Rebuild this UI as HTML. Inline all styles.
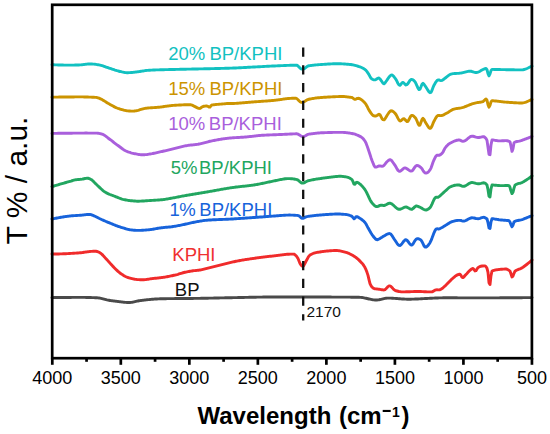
<!DOCTYPE html>
<html><head><meta charset="utf-8"><style>
html,body{margin:0;padding:0;background:#fff;}
body{width:550px;height:434px;overflow:hidden;}
svg{display:block;font-family:"Liberation Sans",sans-serif;}
</style></head><body>
<svg width="550" height="434" viewBox="0 0 550 434">
<path d="M52.00,297.60 L53.00,297.58 L54.00,297.57 L55.00,297.55 L56.00,297.54 L57.00,297.53 L58.00,297.52 L59.00,297.51 L60.00,297.50 L61.00,297.49 L62.00,297.48 L63.00,297.47 L64.00,297.46 L65.00,297.46 L66.00,297.45 L67.00,297.45 L68.00,297.44 L69.00,297.44 L70.00,297.43 L71.00,297.43 L72.00,297.42 L73.00,297.42 L74.00,297.42 L75.00,297.41 L76.00,297.41 L77.00,297.41 L78.00,297.41 L79.00,297.40 L80.00,297.40 L81.00,297.40 L82.00,297.40 L83.00,297.41 L84.00,297.41 L85.00,297.42 L86.00,297.44 L87.00,297.45 L88.00,297.47 L89.00,297.50 L90.00,297.52 L91.00,297.55 L92.00,297.58 L93.00,297.61 L94.00,297.65 L95.00,297.69 L96.00,297.73 L97.00,297.78 L98.00,297.83 L99.00,297.94 L100.00,298.10 L101.00,298.31 L102.00,298.54 L103.00,298.80 L104.00,299.07 L105.00,299.35 L106.00,299.61 L107.00,299.87 L108.00,300.09 L109.00,300.28 L110.00,300.45 L111.00,300.60 L112.00,300.75 L113.00,300.90 L114.00,301.04 L115.00,301.18 L116.00,301.31 L117.00,301.43 L118.00,301.55 L119.00,301.67 L120.00,301.78 L121.00,301.90 L122.00,302.02 L123.00,302.14 L124.00,302.25 L125.00,302.34 L126.00,302.42 L127.00,302.48 L128.00,302.51 L129.00,302.51 L130.00,302.47 L131.00,302.38 L132.00,302.24 L133.00,302.06 L134.00,301.85 L135.00,301.63 L136.00,301.40 L137.00,301.17 L138.00,300.97 L139.00,300.79 L140.00,300.65 L141.00,300.51 L142.00,300.38 L143.00,300.25 L144.00,300.12 L145.00,300.00 L146.00,299.88 L147.00,299.77 L148.00,299.67 L149.00,299.57 L150.00,299.48 L151.00,299.40 L152.00,299.31 L153.00,299.23 L154.00,299.14 L155.00,299.07 L156.00,298.99 L157.00,298.93 L158.00,298.87 L159.00,298.83 L160.00,298.80 L161.00,298.78 L162.00,298.76 L163.00,298.74 L164.00,298.72 L165.00,298.70 L166.00,298.68 L167.00,298.66 L168.00,298.65 L169.00,298.64 L170.00,298.62 L171.00,298.61 L172.00,298.60 L173.00,298.59 L174.00,298.58 L175.00,298.57 L176.00,298.56 L177.00,298.56 L178.00,298.55 L179.00,298.54 L180.00,298.54 L181.00,298.53 L182.00,298.52 L183.00,298.52 L184.00,298.51 L185.00,298.50 L186.00,298.50 L187.00,298.49 L188.00,298.48 L189.00,298.47 L190.00,298.46 L191.00,298.45 L192.00,298.44 L193.00,298.43 L194.00,298.42 L195.00,298.41 L196.00,298.39 L197.00,298.38 L198.00,298.36 L199.00,298.35 L200.00,298.33 L201.00,298.31 L202.00,298.29 L203.00,298.28 L204.00,298.26 L205.00,298.24 L206.00,298.22 L207.00,298.20 L208.00,298.18 L209.00,298.16 L210.00,298.14 L211.00,298.12 L212.00,298.10 L213.00,298.08 L214.00,298.05 L215.00,298.03 L216.00,298.01 L217.00,297.99 L218.00,297.97 L219.00,297.95 L220.00,297.92 L221.00,297.90 L222.00,297.88 L223.00,297.86 L224.00,297.84 L225.00,297.82 L226.00,297.80 L227.00,297.78 L228.00,297.76 L229.00,297.74 L230.00,297.72 L231.00,297.70 L232.00,297.68 L233.00,297.66 L234.00,297.64 L235.00,297.62 L236.00,297.60 L237.00,297.58 L238.00,297.56 L239.00,297.54 L240.00,297.51 L241.00,297.49 L242.00,297.47 L243.00,297.45 L244.00,297.43 L245.00,297.41 L246.00,297.38 L247.00,297.36 L248.00,297.34 L249.00,297.32 L250.00,297.30 L251.00,297.28 L252.00,297.26 L253.00,297.24 L254.00,297.22 L255.00,297.20 L256.00,297.18 L257.00,297.16 L258.00,297.15 L259.00,297.13 L260.00,297.12 L261.00,297.10 L262.00,297.09 L263.00,297.07 L264.00,297.06 L265.00,297.05 L266.00,297.04 L267.00,297.02 L268.00,297.02 L269.00,297.01 L270.00,297.00 L271.00,296.99 L272.00,296.99 L273.00,296.98 L274.00,296.98 L275.00,296.97 L276.00,296.97 L277.00,296.96 L278.00,296.96 L279.00,296.96 L280.00,296.95 L281.00,296.95 L282.00,296.95 L283.00,296.95 L284.00,296.95 L285.00,296.94 L286.00,296.94 L287.00,296.94 L288.00,296.94 L289.00,296.94 L290.00,296.94 L291.00,296.94 L292.00,296.94 L293.00,296.94 L294.00,296.94 L295.00,296.95 L296.00,296.95 L297.00,296.95 L298.00,296.95 L299.00,296.95 L300.00,296.96 L301.00,296.96 L302.00,296.96 L303.00,296.96 L304.00,296.97 L305.00,296.97 L306.00,296.97 L307.00,296.98 L308.00,296.98 L309.00,296.98 L310.00,296.99 L311.00,296.99 L312.00,297.00 L313.00,297.00 L314.00,297.00 L315.00,297.01 L316.00,297.01 L317.00,297.02 L318.00,297.02 L319.00,297.02 L320.00,297.03 L321.00,297.03 L322.00,297.04 L323.00,297.04 L324.00,297.05 L325.00,297.05 L326.00,297.05 L327.00,297.06 L328.00,297.06 L329.00,297.06 L330.00,297.07 L331.00,297.07 L332.00,297.08 L333.00,297.08 L334.00,297.08 L335.00,297.09 L336.00,297.09 L337.00,297.09 L338.00,297.09 L339.00,297.10 L340.00,297.10 L341.00,297.10 L342.00,297.11 L343.00,297.11 L344.00,297.12 L345.00,297.12 L346.00,297.13 L347.00,297.14 L348.00,297.15 L349.00,297.16 L350.00,297.17 L351.00,297.18 L352.00,297.19 L353.00,297.21 L354.00,297.22 L355.00,297.24 L356.00,297.25 L357.00,297.27 L358.00,297.28 L359.00,297.30 L360.00,297.33 L361.00,297.42 L362.00,297.53 L363.00,297.69 L364.00,297.87 L365.00,298.07 L366.00,298.28 L367.00,298.51 L368.00,298.74 L369.00,298.96 L370.00,299.18 L371.00,299.38 L372.00,299.57 L373.00,299.73 L374.00,299.86 L375.00,299.95 L376.00,299.99 L377.00,299.99 L378.00,299.90 L379.00,299.74 L380.00,299.54 L381.00,299.31 L382.00,299.06 L383.00,298.81 L384.00,298.58 L385.00,298.37 L386.00,298.22 L387.00,298.12 L388.00,298.10 L389.00,298.11 L390.00,298.14 L391.00,298.17 L392.00,298.22 L393.00,298.28 L394.00,298.34 L395.00,298.41 L396.00,298.48 L397.00,298.55 L398.00,298.63 L399.00,298.71 L400.00,298.79 L401.00,298.86 L402.00,298.93 L403.00,299.00 L404.00,299.06 L405.00,299.11 L406.00,299.16 L407.00,299.19 L408.00,299.21 L409.00,299.22 L410.00,299.21 L411.00,299.19 L412.00,299.16 L413.00,299.13 L414.00,299.10 L415.00,299.06 L416.00,299.02 L417.00,298.97 L418.00,298.93 L419.00,298.88 L420.00,298.83 L421.00,298.77 L422.00,298.72 L423.00,298.67 L424.00,298.61 L425.00,298.56 L426.00,298.50 L427.00,298.45 L428.00,298.39 L429.00,298.34 L430.00,298.29 L431.00,298.23 L432.00,298.18 L433.00,298.14 L434.00,298.09 L435.00,298.05 L436.00,298.00 L437.00,297.97 L438.00,297.93 L439.00,297.90 L440.00,297.87 L441.00,297.85 L442.00,297.83 L443.00,297.81 L444.00,297.80 L445.00,297.80 L446.00,297.80 L447.00,297.80 L448.00,297.80 L449.00,297.80 L450.00,297.80 L451.00,297.80 L452.00,297.80 L453.00,297.81 L454.00,297.81 L455.00,297.81 L456.00,297.82 L457.00,297.82 L458.00,297.83 L459.00,297.83 L460.00,297.84 L461.00,297.84 L462.00,297.85 L463.00,297.85 L464.00,297.86 L465.00,297.87 L466.00,297.87 L467.00,297.88 L468.00,297.88 L469.00,297.89 L470.00,297.89 L471.00,297.89 L472.00,297.90 L473.00,297.90 L474.00,297.90 L475.00,297.91 L476.00,297.91 L477.00,297.91 L478.00,297.91 L479.00,297.91 L480.00,297.91 L481.00,297.91 L482.00,297.90 L483.00,297.90 L484.00,297.90 L485.00,297.89 L486.00,297.89 L487.00,297.88 L488.00,297.88 L489.00,297.88 L490.00,297.87 L491.00,297.87 L492.00,297.86 L493.00,297.86 L494.00,297.85 L495.00,297.85 L496.00,297.84 L497.00,297.84 L498.00,297.83 L499.00,297.83 L500.00,297.82 L501.00,297.82 L502.00,297.81 L503.00,297.80 L504.00,297.80 L505.00,297.79 L506.00,297.79 L507.00,297.78 L508.00,297.77 L509.00,297.77 L510.00,297.76 L511.00,297.76 L512.00,297.75 L513.00,297.74 L514.00,297.74 L515.00,297.73 L516.00,297.72 L517.00,297.72 L518.00,297.71 L519.00,297.70 L520.00,297.69 L521.00,297.69 L522.00,297.68 L523.00,297.67 L524.00,297.66 L525.00,297.66 L526.00,297.65 L527.00,297.64 L528.00,297.63 L529.00,297.63 L530.00,297.62 L531.00,297.61 L532.00,297.60" fill="none" stroke="#4a4a4a" stroke-width="2.9" stroke-linejoin="round" stroke-linecap="round"/>
<path d="M52.00,254.00 L53.00,254.00 L54.00,254.00 L55.00,253.99 L56.00,253.98 L57.00,253.97 L58.00,253.95 L59.00,253.93 L60.00,253.90 L61.00,253.87 L62.00,253.84 L63.00,253.80 L64.00,253.76 L65.00,253.72 L66.00,253.68 L67.00,253.63 L68.00,253.58 L69.00,253.53 L70.00,253.47 L71.00,253.41 L72.00,253.35 L73.00,253.29 L74.00,253.23 L75.00,253.16 L76.00,253.09 L77.00,253.02 L78.00,252.95 L79.00,252.88 L80.00,252.80 L81.00,252.71 L82.00,252.59 L83.00,252.45 L84.00,252.30 L85.00,252.14 L86.00,251.98 L87.00,251.83 L88.00,251.69 L89.00,251.57 L90.00,251.47 L91.00,251.40 L92.00,251.34 L93.00,251.31 L94.00,251.29 L95.00,251.29 L96.00,251.30 L97.00,251.44 L98.00,251.78 L99.00,252.27 L100.00,252.85 L101.00,253.51 L102.00,254.37 L103.00,255.37 L104.00,256.46 L105.00,257.59 L106.00,258.69 L107.00,259.75 L108.00,260.86 L109.00,261.98 L110.00,263.11 L111.00,264.23 L112.00,265.33 L113.00,266.39 L114.00,267.40 L115.00,268.41 L116.00,269.42 L117.00,270.39 L118.00,271.32 L119.00,272.20 L120.00,272.99 L121.00,273.71 L122.00,274.39 L123.00,275.04 L124.00,275.66 L125.00,276.24 L126.00,276.74 L127.00,277.17 L128.00,277.50 L129.00,277.78 L130.00,278.06 L131.00,278.33 L132.00,278.58 L133.00,278.82 L134.00,279.04 L135.00,279.23 L136.00,279.39 L137.00,279.51 L138.00,279.59 L139.00,279.64 L140.00,279.68 L141.00,279.72 L142.00,279.73 L143.00,279.73 L144.00,279.70 L145.00,279.64 L146.00,279.55 L147.00,279.42 L148.00,279.26 L149.00,279.09 L150.00,278.92 L151.00,278.75 L152.00,278.59 L153.00,278.46 L154.00,278.36 L155.00,278.26 L156.00,278.18 L157.00,278.10 L158.00,278.01 L159.00,277.92 L160.00,277.80 L161.00,277.67 L162.00,277.53 L163.00,277.38 L164.00,277.22 L165.00,277.06 L166.00,276.88 L167.00,276.70 L168.00,276.52 L169.00,276.32 L170.00,276.12 L171.00,275.92 L172.00,275.71 L173.00,275.49 L174.00,275.27 L175.00,275.05 L176.00,274.82 L177.00,274.57 L178.00,274.29 L179.00,273.98 L180.00,273.66 L181.00,273.34 L182.00,273.03 L183.00,272.75 L184.00,272.51 L185.00,272.28 L186.00,272.06 L187.00,271.85 L188.00,271.65 L189.00,271.46 L190.00,271.28 L191.00,271.11 L192.00,270.95 L193.00,270.80 L194.00,270.68 L195.00,270.59 L196.00,270.50 L197.00,270.41 L198.00,270.31 L199.00,270.19 L200.00,270.03 L201.00,269.85 L202.00,269.63 L203.00,269.40 L204.00,269.15 L205.00,268.88 L206.00,268.62 L207.00,268.35 L208.00,268.10 L209.00,267.85 L210.00,267.61 L211.00,267.37 L212.00,267.12 L213.00,266.88 L214.00,266.64 L215.00,266.39 L216.00,266.15 L217.00,265.91 L218.00,265.67 L219.00,265.42 L220.00,265.18 L221.00,264.93 L222.00,264.68 L223.00,264.43 L224.00,264.18 L225.00,263.92 L226.00,263.67 L227.00,263.41 L228.00,263.16 L229.00,262.91 L230.00,262.66 L231.00,262.42 L232.00,262.18 L233.00,261.95 L234.00,261.72 L235.00,261.50 L236.00,261.29 L237.00,261.09 L238.00,260.90 L239.00,260.71 L240.00,260.53 L241.00,260.36 L242.00,260.18 L243.00,260.01 L244.00,259.85 L245.00,259.68 L246.00,259.52 L247.00,259.36 L248.00,259.21 L249.00,259.06 L250.00,258.91 L251.00,258.76 L252.00,258.61 L253.00,258.47 L254.00,258.33 L255.00,258.19 L256.00,258.05 L257.00,257.92 L258.00,257.78 L259.00,257.65 L260.00,257.52 L261.00,257.39 L262.00,257.26 L263.00,257.13 L264.00,257.01 L265.00,256.89 L266.00,256.77 L267.00,256.65 L268.00,256.53 L269.00,256.42 L270.00,256.30 L271.00,256.19 L272.00,256.07 L273.00,255.95 L274.00,255.84 L275.00,255.72 L276.00,255.60 L277.00,255.48 L278.00,255.36 L279.00,255.23 L280.00,255.11 L281.00,254.98 L282.00,254.86 L283.00,254.74 L284.00,254.62 L285.00,254.50 L286.00,254.39 L287.00,254.31 L288.00,254.24 L289.00,254.18 L290.00,254.15 L291.00,254.12 L292.00,254.10 L293.00,254.10 L294.00,254.13 L295.00,254.67 L296.00,255.68 L297.00,256.96 L298.00,258.58 L299.00,261.08 L300.00,263.48 L301.00,265.04 L302.00,266.15 L303.00,266.33 L304.00,265.18 L305.00,263.25 L306.00,261.27 L307.00,259.46 L308.00,257.57 L309.00,255.99 L310.00,255.10 L311.00,254.50 L312.00,253.97 L313.00,253.52 L314.00,253.13 L315.00,252.82 L316.00,252.58 L317.00,252.40 L318.00,252.25 L319.00,252.10 L320.00,251.95 L321.00,251.81 L322.00,251.67 L323.00,251.53 L324.00,251.40 L325.00,251.27 L326.00,251.15 L327.00,251.05 L328.00,250.95 L329.00,250.87 L330.00,250.79 L331.00,250.71 L332.00,250.65 L333.00,250.59 L334.00,250.54 L335.00,250.51 L336.00,250.50 L337.00,250.53 L338.00,250.61 L339.00,250.75 L340.00,250.92 L341.00,251.12 L342.00,251.35 L343.00,251.60 L344.00,251.85 L345.00,252.12 L346.00,252.37 L347.00,252.66 L348.00,253.02 L349.00,253.45 L350.00,253.94 L351.00,254.46 L352.00,255.03 L353.00,255.61 L354.00,256.22 L355.00,256.82 L356.00,257.51 L357.00,258.30 L358.00,259.17 L359.00,260.11 L360.00,261.11 L361.00,262.14 L362.00,263.19 L363.00,264.40 L364.00,265.89 L365.00,267.60 L366.00,269.72 L367.00,272.36 L368.00,275.40 L369.00,279.67 L370.00,283.68 L371.00,285.69 L372.00,287.04 L373.00,288.03 L374.00,288.60 L375.00,288.79 L376.00,288.92 L377.00,289.04 L378.00,289.16 L379.00,289.29 L380.00,289.44 L381.00,289.61 L382.00,289.77 L383.00,289.91 L384.00,290.00 L385.00,289.63 L386.00,288.74 L387.00,287.63 L388.00,286.59 L389.00,285.91 L390.00,285.88 L391.00,286.48 L392.00,287.47 L393.00,288.63 L394.00,289.70 L395.00,290.44 L396.00,290.76 L397.00,291.02 L398.00,291.26 L399.00,291.48 L400.00,291.67 L401.00,291.80 L402.00,291.88 L403.00,291.90 L404.00,291.88 L405.00,291.85 L406.00,291.82 L407.00,291.79 L408.00,291.75 L409.00,291.72 L410.00,291.68 L411.00,291.64 L412.00,291.61 L413.00,291.58 L414.00,291.55 L415.00,291.53 L416.00,291.51 L417.00,291.49 L418.00,291.50 L419.00,291.51 L420.00,291.53 L421.00,291.57 L422.00,291.61 L423.00,291.65 L424.00,291.70 L425.00,291.74 L426.00,291.79 L427.00,291.83 L428.00,291.86 L429.00,291.89 L430.00,291.90 L431.00,291.91 L432.00,291.85 L433.00,291.44 L434.00,290.80 L435.00,290.21 L436.00,289.88 L437.00,289.82 L438.00,289.87 L439.00,289.88 L440.00,289.70 L441.00,289.24 L442.00,288.58 L443.00,287.76 L444.00,286.87 L445.00,285.98 L446.00,285.07 L447.00,284.08 L448.00,283.04 L449.00,281.97 L450.00,280.92 L451.00,279.91 L452.00,278.99 L453.00,278.12 L454.00,277.26 L455.00,276.44 L456.00,275.70 L457.00,275.07 L458.00,274.59 L459.00,274.29 L460.00,274.21 L461.00,275.40 L462.00,277.16 L463.00,277.63 L464.00,276.78 L465.00,275.53 L466.00,274.41 L467.00,273.40 L468.00,272.34 L469.00,271.30 L470.00,270.32 L471.00,269.48 L472.00,268.83 L473.00,268.50 L474.00,269.60 L475.00,270.97 L476.00,270.64 L477.00,269.00 L478.00,267.60 L479.00,266.96 L480.00,266.50 L481.00,266.20 L482.00,266.03 L483.00,265.94 L484.00,265.91 L485.00,265.91 L486.00,266.67 L487.00,268.36 L488.00,272.36 L489.00,282.76 L490.00,284.59 L491.00,275.68 L492.00,271.02 L493.00,270.63 L494.00,270.30 L495.00,270.03 L496.00,269.83 L497.00,269.70 L498.00,269.60 L499.00,269.50 L500.00,269.41 L501.00,269.31 L502.00,269.22 L503.00,269.14 L504.00,269.08 L505.00,269.02 L506.00,269.01 L507.00,269.25 L508.00,269.72 L509.00,270.36 L510.00,271.10 L511.00,273.93 L512.00,276.98 L513.00,276.09 L514.00,273.34 L515.00,271.19 L516.00,270.51 L517.00,269.98 L518.00,269.55 L519.00,269.17 L520.00,268.79 L521.00,268.38 L522.00,267.87 L523.00,267.23 L524.00,266.51 L525.00,265.78 L526.00,265.03 L527.00,264.25 L528.00,263.45 L529.00,262.63 L530.00,261.78 L531.00,260.91 L532.00,260.00" fill="none" stroke="#f02b2b" stroke-width="2.9" stroke-linejoin="round" stroke-linecap="round"/>
<path d="M52.00,219.00 L53.00,218.80 L54.00,218.61 L55.00,218.41 L56.00,218.22 L57.00,218.02 L58.00,217.83 L59.00,217.65 L60.00,217.47 L61.00,217.29 L62.00,217.11 L63.00,216.95 L64.00,216.79 L65.00,216.63 L66.00,216.49 L67.00,216.35 L68.00,216.22 L69.00,216.10 L70.00,215.99 L71.00,215.89 L72.00,215.80 L73.00,215.72 L74.00,215.65 L75.00,215.59 L76.00,215.53 L77.00,215.47 L78.00,215.41 L79.00,215.35 L80.00,215.28 L81.00,215.21 L82.00,215.12 L83.00,215.01 L84.00,214.89 L85.00,214.77 L86.00,214.65 L87.00,214.55 L88.00,214.46 L89.00,214.40 L90.00,214.45 L91.00,214.67 L92.00,215.00 L93.00,215.41 L94.00,215.82 L95.00,216.24 L96.00,216.72 L97.00,217.25 L98.00,217.79 L99.00,218.31 L100.00,218.80 L101.00,219.26 L102.00,219.71 L103.00,220.15 L104.00,220.59 L105.00,221.03 L106.00,221.46 L107.00,221.88 L108.00,222.30 L109.00,222.71 L110.00,223.12 L111.00,223.53 L112.00,223.94 L113.00,224.35 L114.00,224.75 L115.00,225.16 L116.00,225.55 L117.00,225.93 L118.00,226.30 L119.00,226.65 L120.00,226.98 L121.00,227.29 L122.00,227.60 L123.00,227.91 L124.00,228.21 L125.00,228.51 L126.00,228.79 L127.00,229.06 L128.00,229.31 L129.00,229.53 L130.00,229.72 L131.00,229.88 L132.00,230.00 L133.00,230.10 L134.00,230.19 L135.00,230.27 L136.00,230.34 L137.00,230.38 L138.00,230.41 L139.00,230.41 L140.00,230.38 L141.00,230.34 L142.00,230.29 L143.00,230.24 L144.00,230.17 L145.00,230.10 L146.00,230.02 L147.00,229.93 L148.00,229.83 L149.00,229.73 L150.00,229.62 L151.00,229.50 L152.00,229.36 L153.00,229.20 L154.00,229.03 L155.00,228.85 L156.00,228.67 L157.00,228.48 L158.00,228.30 L159.00,228.12 L160.00,227.96 L161.00,227.81 L162.00,227.69 L163.00,227.58 L164.00,227.48 L165.00,227.39 L166.00,227.30 L167.00,227.22 L168.00,227.13 L169.00,227.04 L170.00,226.94 L171.00,226.83 L172.00,226.70 L173.00,226.56 L174.00,226.40 L175.00,226.24 L176.00,226.07 L177.00,225.89 L178.00,225.70 L179.00,225.51 L180.00,225.31 L181.00,225.10 L182.00,224.89 L183.00,224.68 L184.00,224.46 L185.00,224.24 L186.00,224.02 L187.00,223.80 L188.00,223.58 L189.00,223.36 L190.00,223.14 L191.00,222.92 L192.00,222.70 L193.00,222.49 L194.00,222.28 L195.00,222.07 L196.00,221.87 L197.00,221.68 L198.00,221.49 L199.00,221.31 L200.00,221.14 L201.00,220.98 L202.00,220.82 L203.00,220.68 L204.00,220.55 L205.00,220.43 L206.00,220.32 L207.00,220.23 L208.00,220.14 L209.00,220.07 L210.00,220.00 L211.00,219.93 L212.00,219.87 L213.00,219.82 L214.00,219.77 L215.00,219.72 L216.00,219.68 L217.00,219.64 L218.00,219.60 L219.00,219.56 L220.00,219.53 L221.00,219.49 L222.00,219.46 L223.00,219.42 L224.00,219.38 L225.00,219.35 L226.00,219.31 L227.00,219.26 L228.00,219.22 L229.00,219.17 L230.00,219.12 L231.00,219.06 L232.00,219.00 L233.00,218.94 L234.00,218.87 L235.00,218.81 L236.00,218.74 L237.00,218.67 L238.00,218.61 L239.00,218.54 L240.00,218.47 L241.00,218.40 L242.00,218.34 L243.00,218.27 L244.00,218.20 L245.00,218.13 L246.00,218.06 L247.00,217.99 L248.00,217.92 L249.00,217.85 L250.00,217.78 L251.00,217.71 L252.00,217.64 L253.00,217.57 L254.00,217.50 L255.00,217.43 L256.00,217.36 L257.00,217.29 L258.00,217.21 L259.00,217.14 L260.00,217.07 L261.00,217.00 L262.00,216.93 L263.00,216.85 L264.00,216.78 L265.00,216.70 L266.00,216.63 L267.00,216.55 L268.00,216.47 L269.00,216.39 L270.00,216.32 L271.00,216.24 L272.00,216.16 L273.00,216.08 L274.00,216.01 L275.00,215.93 L276.00,215.85 L277.00,215.78 L278.00,215.70 L279.00,215.63 L280.00,215.55 L281.00,215.48 L282.00,215.41 L283.00,215.34 L284.00,215.27 L285.00,215.20 L286.00,215.14 L287.00,215.10 L288.00,215.08 L289.00,215.07 L290.00,215.07 L291.00,215.09 L292.00,215.12 L293.00,215.16 L294.00,215.21 L295.00,215.27 L296.00,215.34 L297.00,215.41 L298.00,215.49 L299.00,215.86 L300.00,216.72 L301.00,217.66 L302.00,218.31 L303.00,218.33 L304.00,217.93 L305.00,217.36 L306.00,216.84 L307.00,216.57 L308.00,216.42 L309.00,216.28 L310.00,216.14 L311.00,216.00 L312.00,215.87 L313.00,215.74 L314.00,215.62 L315.00,215.50 L316.00,215.39 L317.00,215.29 L318.00,215.19 L319.00,215.09 L320.00,215.01 L321.00,214.93 L322.00,214.86 L323.00,214.78 L324.00,214.71 L325.00,214.64 L326.00,214.57 L327.00,214.50 L328.00,214.43 L329.00,214.36 L330.00,214.30 L331.00,214.24 L332.00,214.18 L333.00,214.13 L334.00,214.08 L335.00,214.03 L336.00,214.00 L337.00,213.98 L338.00,213.99 L339.00,214.01 L340.00,214.06 L341.00,214.12 L342.00,214.19 L343.00,214.27 L344.00,214.34 L345.00,214.42 L346.00,214.49 L347.00,214.61 L348.00,214.82 L349.00,215.12 L350.00,215.49 L351.00,215.90 L352.00,216.36 L353.00,217.64 L354.00,218.77 L355.00,218.03 L356.00,216.71 L357.00,216.71 L358.00,217.12 L359.00,217.71 L360.00,218.39 L361.00,219.06 L362.00,219.76 L363.00,220.53 L364.00,221.43 L365.00,222.50 L366.00,223.98 L367.00,225.87 L368.00,227.83 L369.00,229.58 L370.00,231.30 L371.00,233.00 L372.00,234.60 L373.00,236.01 L374.00,237.23 L375.00,238.42 L376.00,239.34 L377.00,239.72 L378.00,239.47 L379.00,238.99 L380.00,238.40 L381.00,237.80 L382.00,237.22 L383.00,236.61 L384.00,236.01 L385.00,235.45 L386.00,234.87 L387.00,234.30 L388.00,233.84 L389.00,233.57 L390.00,233.60 L391.00,234.26 L392.00,235.59 L393.00,237.23 L394.00,238.84 L395.00,240.23 L396.00,241.77 L397.00,243.30 L398.00,244.59 L399.00,245.41 L400.00,245.50 L401.00,244.82 L402.00,243.64 L403.00,242.25 L404.00,240.95 L405.00,240.00 L406.00,239.71 L407.00,240.27 L408.00,241.44 L409.00,242.86 L410.00,244.16 L411.00,244.99 L412.00,244.96 L413.00,243.92 L414.00,242.29 L415.00,240.58 L416.00,239.29 L417.00,238.77 L418.00,238.69 L419.00,238.94 L420.00,239.46 L421.00,240.21 L422.00,241.58 L423.00,243.70 L424.00,245.77 L425.00,247.00 L426.00,247.14 L427.00,246.59 L428.00,245.55 L429.00,244.21 L430.00,242.73 L431.00,240.67 L432.00,238.12 L433.00,235.39 L434.00,232.78 L435.00,230.61 L436.00,229.19 L437.00,228.76 L438.00,228.93 L439.00,229.00 L440.00,228.56 L441.00,228.03 L442.00,227.47 L443.00,226.88 L444.00,226.30 L445.00,225.71 L446.00,225.12 L447.00,224.48 L448.00,223.82 L449.00,223.18 L450.00,222.57 L451.00,222.05 L452.00,221.63 L453.00,221.31 L454.00,221.04 L455.00,220.80 L456.00,220.62 L457.00,220.48 L458.00,220.39 L459.00,220.35 L460.00,220.36 L461.00,220.44 L462.00,220.78 L463.00,221.08 L464.00,221.04 L465.00,220.78 L466.00,220.37 L467.00,219.87 L468.00,219.32 L469.00,218.79 L470.00,218.32 L471.00,217.97 L472.00,217.80 L473.00,217.83 L474.00,217.99 L475.00,218.23 L476.00,218.47 L477.00,218.65 L478.00,218.70 L479.00,218.57 L480.00,218.31 L481.00,217.98 L482.00,217.63 L483.00,217.35 L484.00,217.29 L485.00,217.65 L486.00,218.27 L487.00,219.00 L488.00,222.68 L489.00,228.04 L490.00,228.49 L491.00,221.92 L492.00,218.71 L493.00,218.79 L494.00,218.91 L495.00,219.06 L496.00,219.22 L497.00,219.39 L498.00,219.55 L499.00,219.71 L500.00,219.84 L501.00,219.95 L502.00,220.04 L503.00,220.12 L504.00,220.19 L505.00,220.26 L506.00,220.34 L507.00,220.44 L508.00,220.55 L509.00,220.68 L510.00,222.02 L511.00,224.82 L512.00,226.73 L513.00,225.19 L514.00,221.99 L515.00,221.30 L516.00,220.95 L517.00,220.69 L518.00,220.47 L519.00,220.29 L520.00,220.10 L521.00,219.89 L522.00,219.61 L523.00,219.26 L524.00,218.87 L525.00,218.47 L526.00,218.08 L527.00,217.67 L528.00,217.27 L529.00,216.85 L530.00,216.41 L531.00,215.97 L532.00,215.50" fill="none" stroke="#1763db" stroke-width="2.9" stroke-linejoin="round" stroke-linecap="round"/>
<path d="M52.00,186.60 L53.00,186.29 L54.00,185.99 L55.00,185.69 L56.00,185.39 L57.00,185.09 L58.00,184.79 L59.00,184.50 L60.00,184.20 L61.00,183.91 L62.00,183.62 L63.00,183.34 L64.00,183.05 L65.00,182.77 L66.00,182.49 L67.00,182.21 L68.00,181.93 L69.00,181.64 L70.00,181.36 L71.00,181.07 L72.00,180.75 L73.00,180.42 L74.00,180.11 L75.00,179.86 L76.00,179.69 L77.00,179.59 L78.00,179.52 L79.00,179.47 L80.00,179.41 L81.00,179.31 L82.00,179.16 L83.00,178.96 L84.00,178.74 L85.00,178.52 L86.00,178.33 L87.00,178.19 L88.00,178.24 L89.00,178.50 L90.00,178.92 L91.00,179.44 L92.00,180.07 L93.00,180.99 L94.00,182.05 L95.00,183.12 L96.00,184.07 L97.00,185.00 L98.00,185.96 L99.00,186.92 L100.00,187.88 L101.00,188.81 L102.00,189.71 L103.00,190.55 L104.00,191.32 L105.00,192.02 L106.00,192.61 L107.00,193.14 L108.00,193.62 L109.00,194.07 L110.00,194.49 L111.00,194.88 L112.00,195.26 L113.00,195.64 L114.00,196.01 L115.00,196.39 L116.00,196.79 L117.00,197.20 L118.00,197.61 L119.00,198.01 L120.00,198.39 L121.00,198.75 L122.00,199.06 L123.00,199.33 L124.00,199.56 L125.00,199.77 L126.00,199.97 L127.00,200.15 L128.00,200.32 L129.00,200.47 L130.00,200.60 L131.00,200.71 L132.00,200.80 L133.00,200.88 L134.00,200.97 L135.00,201.05 L136.00,201.13 L137.00,201.18 L138.00,201.21 L139.00,201.21 L140.00,201.17 L141.00,201.12 L142.00,201.07 L143.00,201.01 L144.00,200.94 L145.00,200.87 L146.00,200.80 L147.00,200.72 L148.00,200.65 L149.00,200.58 L150.00,200.51 L151.00,200.45 L152.00,200.39 L153.00,200.33 L154.00,200.27 L155.00,200.22 L156.00,200.16 L157.00,200.10 L158.00,200.03 L159.00,199.96 L160.00,199.89 L161.00,199.81 L162.00,199.71 L163.00,199.60 L164.00,199.47 L165.00,199.32 L166.00,199.16 L167.00,198.99 L168.00,198.82 L169.00,198.64 L170.00,198.46 L171.00,198.28 L172.00,198.10 L173.00,197.92 L174.00,197.74 L175.00,197.55 L176.00,197.36 L177.00,197.17 L178.00,196.97 L179.00,196.77 L180.00,196.58 L181.00,196.38 L182.00,196.19 L183.00,196.01 L184.00,195.83 L185.00,195.65 L186.00,195.48 L187.00,195.30 L188.00,195.13 L189.00,194.96 L190.00,194.79 L191.00,194.62 L192.00,194.45 L193.00,194.29 L194.00,194.12 L195.00,193.95 L196.00,193.79 L197.00,193.62 L198.00,193.46 L199.00,193.29 L200.00,193.13 L201.00,192.96 L202.00,192.79 L203.00,192.63 L204.00,192.46 L205.00,192.29 L206.00,192.12 L207.00,191.95 L208.00,191.78 L209.00,191.61 L210.00,191.43 L211.00,191.25 L212.00,191.07 L213.00,190.89 L214.00,190.71 L215.00,190.53 L216.00,190.35 L217.00,190.17 L218.00,189.99 L219.00,189.80 L220.00,189.62 L221.00,189.44 L222.00,189.27 L223.00,189.09 L224.00,188.91 L225.00,188.74 L226.00,188.57 L227.00,188.40 L228.00,188.23 L229.00,188.07 L230.00,187.91 L231.00,187.75 L232.00,187.60 L233.00,187.45 L234.00,187.32 L235.00,187.19 L236.00,187.06 L237.00,186.95 L238.00,186.83 L239.00,186.72 L240.00,186.62 L241.00,186.52 L242.00,186.42 L243.00,186.31 L244.00,186.21 L245.00,186.11 L246.00,186.00 L247.00,185.90 L248.00,185.78 L249.00,185.67 L250.00,185.54 L251.00,185.41 L252.00,185.27 L253.00,185.12 L254.00,184.97 L255.00,184.80 L256.00,184.63 L257.00,184.45 L258.00,184.26 L259.00,184.07 L260.00,183.88 L261.00,183.67 L262.00,183.47 L263.00,183.26 L264.00,183.05 L265.00,182.84 L266.00,182.62 L267.00,182.41 L268.00,182.19 L269.00,181.98 L270.00,181.76 L271.00,181.55 L272.00,181.34 L273.00,181.13 L274.00,180.92 L275.00,180.72 L276.00,180.52 L277.00,180.32 L278.00,180.11 L279.00,179.90 L280.00,179.70 L281.00,179.50 L282.00,179.30 L283.00,179.12 L284.00,178.95 L285.00,178.80 L286.00,178.68 L287.00,178.61 L288.00,178.58 L289.00,178.58 L290.00,178.63 L291.00,178.70 L292.00,178.80 L293.00,178.92 L294.00,179.06 L295.00,179.22 L296.00,179.39 L297.00,179.61 L298.00,180.15 L299.00,180.94 L300.00,181.81 L301.00,182.59 L302.00,183.09 L303.00,183.17 L304.00,182.89 L305.00,182.38 L306.00,181.78 L307.00,181.21 L308.00,180.78 L309.00,180.54 L310.00,180.33 L311.00,180.12 L312.00,179.92 L313.00,179.73 L314.00,179.54 L315.00,179.36 L316.00,179.19 L317.00,179.03 L318.00,178.88 L319.00,178.73 L320.00,178.58 L321.00,178.44 L322.00,178.29 L323.00,178.16 L324.00,178.02 L325.00,177.89 L326.00,177.76 L327.00,177.63 L328.00,177.50 L329.00,177.38 L330.00,177.25 L331.00,177.12 L332.00,177.00 L333.00,176.88 L334.00,176.76 L335.00,176.65 L336.00,176.55 L337.00,176.45 L338.00,176.36 L339.00,176.29 L340.00,176.26 L341.00,176.30 L342.00,176.38 L343.00,176.50 L344.00,176.63 L345.00,176.77 L346.00,176.89 L347.00,177.06 L348.00,177.36 L349.00,177.79 L350.00,178.31 L351.00,178.91 L352.00,179.58 L353.00,181.67 L354.00,184.10 L355.00,184.30 L356.00,182.67 L357.00,182.27 L358.00,182.65 L359.00,183.29 L360.00,184.08 L361.00,184.96 L362.00,185.96 L363.00,187.09 L364.00,188.34 L365.00,189.70 L366.00,191.38 L367.00,193.28 L368.00,195.38 L369.00,197.60 L370.00,199.71 L371.00,201.50 L372.00,202.82 L373.00,204.02 L374.00,205.08 L375.00,205.92 L376.00,206.46 L377.00,206.62 L378.00,206.36 L379.00,205.85 L380.00,205.35 L381.00,205.10 L382.00,205.21 L383.00,205.43 L384.00,205.49 L385.00,205.24 L386.00,204.75 L387.00,204.17 L388.00,203.63 L389.00,203.27 L390.00,203.22 L391.00,203.53 L392.00,204.11 L393.00,204.89 L394.00,205.80 L395.00,206.74 L396.00,207.64 L397.00,208.41 L398.00,208.99 L399.00,209.28 L400.00,209.24 L401.00,208.94 L402.00,208.47 L403.00,207.94 L404.00,207.46 L405.00,207.11 L406.00,207.00 L407.00,207.24 L408.00,207.73 L409.00,208.33 L410.00,208.88 L411.00,209.24 L412.00,209.23 L413.00,208.60 L414.00,207.62 L415.00,206.66 L416.00,206.06 L417.00,206.07 L418.00,206.37 L419.00,206.82 L420.00,207.31 L421.00,207.80 L422.00,208.36 L423.00,208.95 L424.00,209.48 L425.00,209.90 L426.00,210.02 L427.00,209.77 L428.00,209.24 L429.00,208.54 L430.00,207.72 L431.00,206.20 L432.00,204.08 L433.00,201.75 L434.00,199.59 L435.00,197.98 L436.00,197.28 L437.00,197.31 L438.00,197.26 L439.00,196.59 L440.00,195.79 L441.00,194.92 L442.00,194.01 L443.00,193.08 L444.00,192.16 L445.00,191.27 L446.00,190.39 L447.00,189.44 L448.00,188.51 L449.00,187.67 L450.00,187.00 L451.00,186.53 L452.00,186.13 L453.00,185.77 L454.00,185.48 L455.00,185.24 L456.00,185.07 L457.00,184.97 L458.00,184.94 L459.00,185.00 L460.00,185.25 L461.00,185.69 L462.00,186.13 L463.00,186.38 L464.00,186.32 L465.00,186.00 L466.00,185.50 L467.00,184.87 L468.00,184.21 L469.00,183.57 L470.00,183.02 L471.00,182.64 L472.00,182.50 L473.00,182.59 L474.00,182.81 L475.00,183.10 L476.00,183.41 L477.00,183.66 L478.00,183.80 L479.00,183.79 L480.00,183.65 L481.00,183.44 L482.00,183.19 L483.00,182.96 L484.00,182.80 L485.00,183.07 L486.00,183.90 L487.00,185.00 L488.00,189.69 L489.00,196.31 L490.00,196.91 L491.00,188.93 L492.00,185.00 L493.00,185.04 L494.00,185.11 L495.00,185.19 L496.00,185.28 L497.00,185.37 L498.00,185.46 L499.00,185.53 L500.00,185.59 L501.00,185.61 L502.00,185.61 L503.00,185.60 L504.00,185.59 L505.00,185.57 L506.00,185.56 L507.00,185.55 L508.00,185.56 L509.00,185.60 L510.00,187.28 L511.00,191.04 L512.00,193.61 L513.00,192.17 L514.00,188.09 L515.00,185.10 L516.00,184.46 L517.00,184.02 L518.00,183.71 L519.00,183.46 L520.00,183.23 L521.00,182.95 L522.00,182.57 L523.00,182.04 L524.00,181.43 L525.00,180.81 L526.00,180.18 L527.00,179.54 L528.00,178.88 L529.00,178.20 L530.00,177.49 L531.00,176.76 L532.00,176.00" fill="none" stroke="#22a660" stroke-width="2.9" stroke-linejoin="round" stroke-linecap="round"/>
<path d="M52.00,133.40 L53.00,133.39 L54.00,133.37 L55.00,133.36 L56.00,133.35 L57.00,133.33 L58.00,133.32 L59.00,133.31 L60.00,133.30 L61.00,133.29 L62.00,133.28 L63.00,133.27 L64.00,133.26 L65.00,133.25 L66.00,133.23 L67.00,133.22 L68.00,133.21 L69.00,133.20 L70.00,133.20 L71.00,133.19 L72.00,133.18 L73.00,133.17 L74.00,133.16 L75.00,133.15 L76.00,133.14 L77.00,133.13 L78.00,133.12 L79.00,133.11 L80.00,133.10 L81.00,133.09 L82.00,133.08 L83.00,133.08 L84.00,133.08 L85.00,133.07 L86.00,133.07 L87.00,133.07 L88.00,133.08 L89.00,133.08 L90.00,133.08 L91.00,133.08 L92.00,133.09 L93.00,133.09 L94.00,133.09 L95.00,133.10 L96.00,133.10 L97.00,133.13 L98.00,133.23 L99.00,133.37 L100.00,133.57 L101.00,133.79 L102.00,134.06 L103.00,134.45 L104.00,135.00 L105.00,135.67 L106.00,136.41 L107.00,137.19 L108.00,137.98 L109.00,138.73 L110.00,139.45 L111.00,140.20 L112.00,140.97 L113.00,141.75 L114.00,142.53 L115.00,143.30 L116.00,144.07 L117.00,144.82 L118.00,145.54 L119.00,146.28 L120.00,147.03 L121.00,147.78 L122.00,148.52 L123.00,149.22 L124.00,149.88 L125.00,150.47 L126.00,150.98 L127.00,151.40 L128.00,151.79 L129.00,152.15 L130.00,152.48 L131.00,152.79 L132.00,153.07 L133.00,153.32 L134.00,153.55 L135.00,153.75 L136.00,153.93 L137.00,154.12 L138.00,154.31 L139.00,154.48 L140.00,154.63 L141.00,154.74 L142.00,154.80 L143.00,154.79 L144.00,154.75 L145.00,154.68 L146.00,154.58 L147.00,154.47 L148.00,154.33 L149.00,154.18 L150.00,154.02 L151.00,153.85 L152.00,153.68 L153.00,153.48 L154.00,153.27 L155.00,153.05 L156.00,152.82 L157.00,152.59 L158.00,152.35 L159.00,152.12 L160.00,151.90 L161.00,151.68 L162.00,151.47 L163.00,151.25 L164.00,151.03 L165.00,150.82 L166.00,150.60 L167.00,150.37 L168.00,150.15 L169.00,149.91 L170.00,149.67 L171.00,149.42 L172.00,149.16 L173.00,148.90 L174.00,148.64 L175.00,148.37 L176.00,148.11 L177.00,147.84 L178.00,147.58 L179.00,147.32 L180.00,147.06 L181.00,146.82 L182.00,146.58 L183.00,146.35 L184.00,146.13 L185.00,145.92 L186.00,145.73 L187.00,145.56 L188.00,145.41 L189.00,145.28 L190.00,145.16 L191.00,145.06 L192.00,144.96 L193.00,144.86 L194.00,144.76 L195.00,144.65 L196.00,144.52 L197.00,144.38 L198.00,144.23 L199.00,144.04 L200.00,143.84 L201.00,143.61 L202.00,143.36 L203.00,143.11 L204.00,142.85 L205.00,142.58 L206.00,142.31 L207.00,142.04 L208.00,141.78 L209.00,141.52 L210.00,141.28 L211.00,141.06 L212.00,140.86 L213.00,140.67 L214.00,140.48 L215.00,140.28 L216.00,140.10 L217.00,139.91 L218.00,139.73 L219.00,139.55 L220.00,139.38 L221.00,139.21 L222.00,139.05 L223.00,138.89 L224.00,138.75 L225.00,138.60 L226.00,138.47 L227.00,138.35 L228.00,138.23 L229.00,138.13 L230.00,138.03 L231.00,137.95 L232.00,137.87 L233.00,137.80 L234.00,137.73 L235.00,137.66 L236.00,137.60 L237.00,137.54 L238.00,137.49 L239.00,137.43 L240.00,137.37 L241.00,137.31 L242.00,137.25 L243.00,137.19 L244.00,137.12 L245.00,137.04 L246.00,136.96 L247.00,136.87 L248.00,136.77 L249.00,136.67 L250.00,136.56 L251.00,136.44 L252.00,136.32 L253.00,136.20 L254.00,136.08 L255.00,135.97 L256.00,135.85 L257.00,135.74 L258.00,135.63 L259.00,135.53 L260.00,135.45 L261.00,135.37 L262.00,135.30 L263.00,135.24 L264.00,135.19 L265.00,135.14 L266.00,135.09 L267.00,135.05 L268.00,135.00 L269.00,134.96 L270.00,134.92 L271.00,134.88 L272.00,134.85 L273.00,134.81 L274.00,134.77 L275.00,134.73 L276.00,134.68 L277.00,134.64 L278.00,134.60 L279.00,134.55 L280.00,134.51 L281.00,134.47 L282.00,134.43 L283.00,134.39 L284.00,134.34 L285.00,134.30 L286.00,134.26 L287.00,134.21 L288.00,134.16 L289.00,134.11 L290.00,134.06 L291.00,134.01 L292.00,133.96 L293.00,133.92 L294.00,133.88 L295.00,133.84 L296.00,133.81 L297.00,133.82 L298.00,134.12 L299.00,134.67 L300.00,135.32 L301.00,135.96 L302.00,136.46 L303.00,136.70 L304.00,136.54 L305.00,136.06 L306.00,135.43 L307.00,134.80 L308.00,134.37 L309.00,134.18 L310.00,134.02 L311.00,133.87 L312.00,133.72 L313.00,133.58 L314.00,133.45 L315.00,133.33 L316.00,133.21 L317.00,133.11 L318.00,133.02 L319.00,132.94 L320.00,132.87 L321.00,132.82 L322.00,132.77 L323.00,132.73 L324.00,132.69 L325.00,132.66 L326.00,132.62 L327.00,132.58 L328.00,132.55 L329.00,132.52 L330.00,132.49 L331.00,132.47 L332.00,132.44 L333.00,132.42 L334.00,132.40 L335.00,132.39 L336.00,132.38 L337.00,132.37 L338.00,132.36 L339.00,132.36 L340.00,132.36 L341.00,132.37 L342.00,132.38 L343.00,132.40 L344.00,132.43 L345.00,132.49 L346.00,132.59 L347.00,132.71 L348.00,132.85 L349.00,133.01 L350.00,133.19 L351.00,133.37 L352.00,133.55 L353.00,133.73 L354.00,133.92 L355.00,134.20 L356.00,134.56 L357.00,134.97 L358.00,135.43 L359.00,135.91 L360.00,136.41 L361.00,136.91 L362.00,137.62 L363.00,138.57 L364.00,139.73 L365.00,141.10 L366.00,143.03 L367.00,145.65 L368.00,148.59 L369.00,151.48 L370.00,154.51 L371.00,157.66 L372.00,160.50 L373.00,163.03 L374.00,165.43 L375.00,166.98 L376.00,167.13 L377.00,166.79 L378.00,166.33 L379.00,165.98 L380.00,165.91 L381.00,166.10 L382.00,166.26 L383.00,166.13 L384.00,165.36 L385.00,164.12 L386.00,162.78 L387.00,161.71 L388.00,160.79 L389.00,160.01 L390.00,159.69 L391.00,160.08 L392.00,161.11 L393.00,162.49 L394.00,163.91 L395.00,165.31 L396.00,167.06 L397.00,168.85 L398.00,170.35 L399.00,171.23 L400.00,171.27 L401.00,170.70 L402.00,169.82 L403.00,168.88 L404.00,168.15 L405.00,167.90 L406.00,168.16 L407.00,168.73 L408.00,169.45 L409.00,170.18 L410.00,170.78 L411.00,171.10 L412.00,170.91 L413.00,169.89 L414.00,168.40 L415.00,166.89 L416.00,165.81 L417.00,165.49 L418.00,165.62 L419.00,166.09 L420.00,166.79 L421.00,167.63 L422.00,168.76 L423.00,170.42 L424.00,171.98 L425.00,172.82 L426.00,173.06 L427.00,172.82 L428.00,172.18 L429.00,171.19 L430.00,169.93 L431.00,168.09 L432.00,165.20 L433.00,162.21 L434.00,159.92 L435.00,157.77 L436.00,156.05 L437.00,155.23 L438.00,155.27 L439.00,155.38 L440.00,154.96 L441.00,154.26 L442.00,153.34 L443.00,152.06 L444.00,150.00 L445.00,148.07 L446.00,146.84 L447.00,145.72 L448.00,144.72 L449.00,143.87 L450.00,143.21 L451.00,142.71 L452.00,142.22 L453.00,141.74 L454.00,141.28 L455.00,140.86 L456.00,140.51 L457.00,140.24 L458.00,140.06 L459.00,140.00 L460.00,140.19 L461.00,140.61 L462.00,141.05 L463.00,141.30 L464.00,141.17 L465.00,140.73 L466.00,140.06 L467.00,139.26 L468.00,138.40 L469.00,137.58 L470.00,136.88 L471.00,136.39 L472.00,136.20 L473.00,136.28 L474.00,136.51 L475.00,136.81 L476.00,137.12 L477.00,137.37 L478.00,137.50 L479.00,137.46 L480.00,137.30 L481.00,137.06 L482.00,136.82 L483.00,136.63 L484.00,136.74 L485.00,137.44 L486.00,138.50 L487.00,140.36 L488.00,147.21 L489.00,154.39 L490.00,154.74 L491.00,144.87 L492.00,140.00 L493.00,140.06 L494.00,140.17 L495.00,140.32 L496.00,140.49 L497.00,140.65 L498.00,140.79 L499.00,140.88 L500.00,140.91 L501.00,140.87 L502.00,140.81 L503.00,140.75 L504.00,140.69 L505.00,140.63 L506.00,140.60 L507.00,140.71 L508.00,140.98 L509.00,141.35 L510.00,141.80 L511.00,146.17 L512.00,151.38 L513.00,148.67 L514.00,142.91 L515.00,142.02 L516.00,141.72 L517.00,141.51 L518.00,141.34 L519.00,141.18 L520.00,140.97 L521.00,140.67 L522.00,140.30 L523.00,139.93 L524.00,139.56 L525.00,139.19 L526.00,138.82 L527.00,138.44 L528.00,138.05 L529.00,137.66 L530.00,137.25 L531.00,136.83 L532.00,136.40" fill="none" stroke="#a95fdc" stroke-width="2.9" stroke-linejoin="round" stroke-linecap="round"/>
<path d="M52.00,97.20 L53.00,97.18 L54.00,97.16 L55.00,97.13 L56.00,97.12 L57.00,97.10 L58.00,97.08 L59.00,97.07 L60.00,97.05 L61.00,97.04 L62.00,97.03 L63.00,97.01 L64.00,97.00 L65.00,96.99 L66.00,96.98 L67.00,96.98 L68.00,96.97 L69.00,96.96 L70.00,96.95 L71.00,96.95 L72.00,96.94 L73.00,96.94 L74.00,96.93 L75.00,96.92 L76.00,96.92 L77.00,96.91 L78.00,96.91 L79.00,96.90 L80.00,96.90 L81.00,96.90 L82.00,96.90 L83.00,96.91 L84.00,96.93 L85.00,96.95 L86.00,96.98 L87.00,97.01 L88.00,97.04 L89.00,97.08 L90.00,97.12 L91.00,97.16 L92.00,97.20 L93.00,97.25 L94.00,97.30 L95.00,97.35 L96.00,97.40 L97.00,97.54 L98.00,97.82 L99.00,98.20 L100.00,98.63 L101.00,99.07 L102.00,99.58 L103.00,100.15 L104.00,100.76 L105.00,101.39 L106.00,102.03 L107.00,102.66 L108.00,103.27 L109.00,103.85 L110.00,104.40 L111.00,104.96 L112.00,105.52 L113.00,106.07 L114.00,106.60 L115.00,107.11 L116.00,107.58 L117.00,108.00 L118.00,108.37 L119.00,108.71 L120.00,109.05 L121.00,109.37 L122.00,109.67 L123.00,109.95 L124.00,110.21 L125.00,110.43 L126.00,110.63 L127.00,110.78 L128.00,110.90 L129.00,110.99 L130.00,111.05 L131.00,111.10 L132.00,111.11 L133.00,111.09 L134.00,111.04 L135.00,110.94 L136.00,110.79 L137.00,110.58 L138.00,110.32 L139.00,110.03 L140.00,109.72 L141.00,109.41 L142.00,109.10 L143.00,108.82 L144.00,108.57 L145.00,108.38 L146.00,108.24 L147.00,108.12 L148.00,108.02 L149.00,107.93 L150.00,107.85 L151.00,107.78 L152.00,107.72 L153.00,107.65 L154.00,107.59 L155.00,107.53 L156.00,107.46 L157.00,107.39 L158.00,107.30 L159.00,107.21 L160.00,107.10 L161.00,106.98 L162.00,106.84 L163.00,106.70 L164.00,106.56 L165.00,106.41 L166.00,106.26 L167.00,106.11 L168.00,105.97 L169.00,105.83 L170.00,105.71 L171.00,105.60 L172.00,105.50 L173.00,105.42 L174.00,105.34 L175.00,105.28 L176.00,105.22 L177.00,105.16 L178.00,105.11 L179.00,105.05 L180.00,105.00 L181.00,104.95 L182.00,104.89 L183.00,104.85 L184.00,104.80 L185.00,104.77 L186.00,104.74 L187.00,104.72 L188.00,104.72 L189.00,104.73 L190.00,104.76 L191.00,104.81 L192.00,105.08 L193.00,105.60 L194.00,106.16 L195.00,106.63 L196.00,107.15 L197.00,107.68 L198.00,108.14 L199.00,108.44 L200.00,108.42 L201.00,107.79 L202.00,106.98 L203.00,106.51 L204.00,106.26 L205.00,106.11 L206.00,106.04 L207.00,106.07 L208.00,106.43 L209.00,107.16 L210.00,107.02 L211.00,105.69 L212.00,104.97 L213.00,104.83 L214.00,104.71 L215.00,104.60 L216.00,104.50 L217.00,104.41 L218.00,104.33 L219.00,104.25 L220.00,104.17 L221.00,104.09 L222.00,104.01 L223.00,103.91 L224.00,103.82 L225.00,103.72 L226.00,103.63 L227.00,103.55 L228.00,103.48 L229.00,103.43 L230.00,103.40 L231.00,103.45 L232.00,103.50 L233.00,103.47 L234.00,103.43 L235.00,103.38 L236.00,103.33 L237.00,103.27 L238.00,103.20 L239.00,103.13 L240.00,103.06 L241.00,102.98 L242.00,102.90 L243.00,102.82 L244.00,102.73 L245.00,102.65 L246.00,102.56 L247.00,102.47 L248.00,102.38 L249.00,102.30 L250.00,102.21 L251.00,102.12 L252.00,102.04 L253.00,101.96 L254.00,101.88 L255.00,101.81 L256.00,101.74 L257.00,101.66 L258.00,101.59 L259.00,101.52 L260.00,101.45 L261.00,101.38 L262.00,101.30 L263.00,101.23 L264.00,101.16 L265.00,101.09 L266.00,101.01 L267.00,100.93 L268.00,100.86 L269.00,100.78 L270.00,100.70 L271.00,100.61 L272.00,100.53 L273.00,100.44 L274.00,100.35 L275.00,100.26 L276.00,100.16 L277.00,100.05 L278.00,99.92 L279.00,99.78 L280.00,99.63 L281.00,99.48 L282.00,99.33 L283.00,99.18 L284.00,99.03 L285.00,98.90 L286.00,98.78 L287.00,98.66 L288.00,98.56 L289.00,98.47 L290.00,98.39 L291.00,98.33 L292.00,98.28 L293.00,98.25 L294.00,98.25 L295.00,98.27 L296.00,98.31 L297.00,98.78 L298.00,99.72 L299.00,100.82 L300.00,101.78 L301.00,102.30 L302.00,102.34 L303.00,102.13 L304.00,101.76 L305.00,101.22 L306.00,100.57 L307.00,99.94 L308.00,99.48 L309.00,99.24 L310.00,99.03 L311.00,98.83 L312.00,98.65 L313.00,98.48 L314.00,98.32 L315.00,98.17 L316.00,98.03 L317.00,97.91 L318.00,97.80 L319.00,97.70 L320.00,97.61 L321.00,97.53 L322.00,97.46 L323.00,97.39 L324.00,97.32 L325.00,97.26 L326.00,97.19 L327.00,97.13 L328.00,97.07 L329.00,97.01 L330.00,96.95 L331.00,96.90 L332.00,96.85 L333.00,96.79 L334.00,96.75 L335.00,96.70 L336.00,96.66 L337.00,96.61 L338.00,96.58 L339.00,96.54 L340.00,96.51 L341.00,96.49 L342.00,96.49 L343.00,96.52 L344.00,96.57 L345.00,96.64 L346.00,96.73 L347.00,96.83 L348.00,96.95 L349.00,97.08 L350.00,97.22 L351.00,97.36 L352.00,97.52 L353.00,98.13 L354.00,98.99 L355.00,99.42 L356.00,99.08 L357.00,98.50 L358.00,98.30 L359.00,98.46 L360.00,98.85 L361.00,99.42 L362.00,100.15 L363.00,101.01 L364.00,101.97 L365.00,103.00 L366.00,104.38 L367.00,106.22 L368.00,108.22 L369.00,110.10 L370.00,111.65 L371.00,113.15 L372.00,114.47 L373.00,115.38 L374.00,115.82 L375.00,116.02 L376.00,116.00 L377.00,115.54 L378.00,114.75 L379.00,114.22 L380.00,114.77 L381.00,116.70 L382.00,118.70 L383.00,119.67 L384.00,119.87 L385.00,118.89 L386.00,117.17 L387.00,115.50 L388.00,114.02 L389.00,112.54 L390.00,111.37 L391.00,110.81 L392.00,110.87 L393.00,111.41 L394.00,112.27 L395.00,113.28 L396.00,114.49 L397.00,116.33 L398.00,118.38 L399.00,120.11 L400.00,121.00 L401.00,120.71 L402.00,119.74 L403.00,118.82 L404.00,118.68 L405.00,119.51 L406.00,120.69 L407.00,121.52 L408.00,121.24 L409.00,119.59 L410.00,117.46 L411.00,115.81 L412.00,115.37 L413.00,115.65 L414.00,116.41 L415.00,117.47 L416.00,118.74 L417.00,120.99 L418.00,123.60 L419.00,125.39 L420.00,125.03 L421.00,122.36 L422.00,119.42 L423.00,118.30 L424.00,119.52 L425.00,121.49 L426.00,123.19 L427.00,124.81 L428.00,126.46 L429.00,127.77 L430.00,128.41 L431.00,127.91 L432.00,125.98 L433.00,123.43 L434.00,121.17 L435.00,119.38 L436.00,117.56 L437.00,116.12 L438.00,115.44 L439.00,115.37 L440.00,115.53 L441.00,115.66 L442.00,115.50 L443.00,115.07 L444.00,114.59 L445.00,114.07 L446.00,113.53 L447.00,112.98 L448.00,112.41 L449.00,111.78 L450.00,111.12 L451.00,110.47 L452.00,109.89 L453.00,109.44 L454.00,109.11 L455.00,108.86 L456.00,108.68 L457.00,108.53 L458.00,108.40 L459.00,108.27 L460.00,108.12 L461.00,107.93 L462.00,107.69 L463.00,107.38 L464.00,107.04 L465.00,106.67 L466.00,106.29 L467.00,105.90 L468.00,105.51 L469.00,105.11 L470.00,104.72 L471.00,104.33 L472.00,103.97 L473.00,103.63 L474.00,103.32 L475.00,103.07 L476.00,102.85 L477.00,102.68 L478.00,102.52 L479.00,102.36 L480.00,102.21 L481.00,102.04 L482.00,101.84 L483.00,101.54 L484.00,100.73 L485.00,99.72 L486.00,98.99 L487.00,100.23 L488.00,104.62 L489.00,107.20 L490.00,105.26 L491.00,101.95 L492.00,100.71 L493.00,100.77 L494.00,100.85 L495.00,100.95 L496.00,101.05 L497.00,101.16 L498.00,101.28 L499.00,101.41 L500.00,101.53 L501.00,101.65 L502.00,101.77 L503.00,101.89 L504.00,101.99 L505.00,102.08 L506.00,102.16 L507.00,102.22 L508.00,102.29 L509.00,102.36 L510.00,102.43 L511.00,102.50 L512.00,102.57 L513.00,102.63 L514.00,102.70 L515.00,102.76 L516.00,102.82 L517.00,102.87 L518.00,102.92 L519.00,102.95 L520.00,102.98 L521.00,103.00 L522.00,102.98 L523.00,102.87 L524.00,102.67 L525.00,102.39 L526.00,102.06 L527.00,101.67 L528.00,101.24 L529.00,100.79 L530.00,100.33 L531.00,99.86 L532.00,99.40" fill="none" stroke="#cc9400" stroke-width="2.9" stroke-linejoin="round" stroke-linecap="round"/>
<path d="M52.00,64.70 L53.00,64.75 L54.00,64.79 L55.00,64.83 L56.00,64.87 L57.00,64.91 L58.00,64.94 L59.00,64.97 L60.00,65.00 L61.00,65.03 L62.00,65.05 L63.00,65.07 L64.00,65.09 L65.00,65.11 L66.00,65.12 L67.00,65.13 L68.00,65.13 L69.00,65.13 L70.00,65.13 L71.00,65.13 L72.00,65.12 L73.00,65.10 L74.00,65.09 L75.00,65.07 L76.00,65.04 L77.00,65.01 L78.00,64.98 L79.00,64.94 L80.00,64.90 L81.00,64.84 L82.00,64.74 L83.00,64.63 L84.00,64.50 L85.00,64.37 L86.00,64.25 L87.00,64.13 L88.00,64.04 L89.00,63.99 L90.00,63.96 L91.00,63.98 L92.00,64.02 L93.00,64.09 L94.00,64.18 L95.00,64.30 L96.00,64.43 L97.00,64.58 L98.00,64.74 L99.00,64.92 L100.00,65.12 L101.00,65.38 L102.00,65.67 L103.00,65.98 L104.00,66.32 L105.00,66.68 L106.00,67.04 L107.00,67.39 L108.00,67.74 L109.00,68.07 L110.00,68.39 L111.00,68.72 L112.00,69.06 L113.00,69.40 L114.00,69.73 L115.00,70.07 L116.00,70.38 L117.00,70.69 L118.00,70.97 L119.00,71.23 L120.00,71.47 L121.00,71.70 L122.00,71.94 L123.00,72.15 L124.00,72.34 L125.00,72.50 L126.00,72.62 L127.00,72.69 L128.00,72.70 L129.00,72.66 L130.00,72.61 L131.00,72.53 L132.00,72.44 L133.00,72.34 L134.00,72.22 L135.00,72.10 L136.00,71.98 L137.00,71.85 L138.00,71.72 L139.00,71.60 L140.00,71.45 L141.00,71.30 L142.00,71.14 L143.00,70.98 L144.00,70.82 L145.00,70.67 L146.00,70.54 L147.00,70.42 L148.00,70.33 L149.00,70.26 L150.00,70.20 L151.00,70.14 L152.00,70.09 L153.00,70.04 L154.00,70.00 L155.00,69.96 L156.00,69.92 L157.00,69.89 L158.00,69.86 L159.00,69.83 L160.00,69.80 L161.00,69.77 L162.00,69.75 L163.00,69.72 L164.00,69.70 L165.00,69.67 L166.00,69.65 L167.00,69.62 L168.00,69.60 L169.00,69.57 L170.00,69.55 L171.00,69.52 L172.00,69.50 L173.00,69.48 L174.00,69.45 L175.00,69.43 L176.00,69.41 L177.00,69.38 L178.00,69.36 L179.00,69.34 L180.00,69.32 L181.00,69.29 L182.00,69.27 L183.00,69.25 L184.00,69.23 L185.00,69.21 L186.00,69.19 L187.00,69.17 L188.00,69.15 L189.00,69.13 L190.00,69.11 L191.00,69.09 L192.00,69.07 L193.00,69.05 L194.00,69.03 L195.00,69.01 L196.00,68.98 L197.00,68.96 L198.00,68.94 L199.00,68.92 L200.00,68.90 L201.00,68.88 L202.00,68.86 L203.00,68.84 L204.00,68.82 L205.00,68.80 L206.00,68.78 L207.00,68.76 L208.00,68.73 L209.00,68.71 L210.00,68.69 L211.00,68.67 L212.00,68.64 L213.00,68.62 L214.00,68.60 L215.00,68.57 L216.00,68.55 L217.00,68.52 L218.00,68.50 L219.00,68.47 L220.00,68.45 L221.00,68.42 L222.00,68.40 L223.00,68.37 L224.00,68.34 L225.00,68.31 L226.00,68.28 L227.00,68.25 L228.00,68.23 L229.00,68.19 L230.00,68.16 L231.00,68.13 L232.00,68.10 L233.00,68.07 L234.00,68.03 L235.00,67.99 L236.00,67.95 L237.00,67.90 L238.00,67.85 L239.00,67.80 L240.00,67.75 L241.00,67.70 L242.00,67.65 L243.00,67.59 L244.00,67.54 L245.00,67.48 L246.00,67.43 L247.00,67.37 L248.00,67.31 L249.00,67.26 L250.00,67.20 L251.00,67.15 L252.00,67.09 L253.00,67.04 L254.00,66.99 L255.00,66.94 L256.00,66.89 L257.00,66.84 L258.00,66.79 L259.00,66.73 L260.00,66.68 L261.00,66.63 L262.00,66.58 L263.00,66.53 L264.00,66.48 L265.00,66.42 L266.00,66.37 L267.00,66.32 L268.00,66.27 L269.00,66.22 L270.00,66.17 L271.00,66.12 L272.00,66.07 L273.00,66.02 L274.00,65.98 L275.00,65.93 L276.00,65.88 L277.00,65.84 L278.00,65.79 L279.00,65.75 L280.00,65.71 L281.00,65.67 L282.00,65.62 L283.00,65.58 L284.00,65.54 L285.00,65.50 L286.00,65.46 L287.00,65.42 L288.00,65.38 L289.00,65.34 L290.00,65.30 L291.00,65.27 L292.00,65.25 L293.00,65.22 L294.00,65.21 L295.00,65.20 L296.00,65.20 L297.00,65.27 L298.00,65.96 L299.00,67.03 L300.00,68.11 L301.00,68.80 L302.00,69.04 L303.00,69.03 L304.00,68.76 L305.00,68.15 L306.00,67.32 L307.00,66.52 L308.00,65.98 L309.00,65.78 L310.00,65.63 L311.00,65.48 L312.00,65.35 L313.00,65.22 L314.00,65.11 L315.00,65.00 L316.00,64.91 L317.00,64.82 L318.00,64.73 L319.00,64.66 L320.00,64.59 L321.00,64.52 L322.00,64.46 L323.00,64.40 L324.00,64.34 L325.00,64.27 L326.00,64.20 L327.00,64.14 L328.00,64.07 L329.00,64.01 L330.00,63.95 L331.00,63.90 L332.00,63.85 L333.00,63.80 L334.00,63.76 L335.00,63.72 L336.00,63.70 L337.00,63.68 L338.00,63.69 L339.00,63.70 L340.00,63.73 L341.00,63.78 L342.00,63.83 L343.00,63.89 L344.00,63.96 L345.00,64.04 L346.00,64.12 L347.00,64.20 L348.00,64.29 L349.00,64.37 L350.00,64.46 L351.00,64.55 L352.00,64.69 L353.00,64.88 L354.00,65.11 L355.00,65.37 L356.00,65.65 L357.00,65.95 L358.00,66.25 L359.00,66.54 L360.00,66.85 L361.00,67.24 L362.00,67.71 L363.00,68.24 L364.00,68.84 L365.00,69.50 L366.00,70.43 L367.00,71.70 L368.00,73.14 L369.00,74.63 L370.00,76.52 L371.00,78.18 L372.00,79.04 L373.00,79.58 L374.00,79.87 L375.00,79.90 L376.00,79.49 L377.00,78.75 L378.00,78.12 L379.00,78.06 L380.00,78.96 L381.00,80.35 L382.00,81.70 L383.00,83.22 L384.00,83.80 L385.00,82.93 L386.00,81.53 L387.00,80.11 L388.00,78.54 L389.00,77.18 L390.00,75.99 L391.00,75.11 L392.00,74.95 L393.00,75.60 L394.00,76.75 L395.00,78.08 L396.00,79.50 L397.00,81.46 L398.00,83.49 L399.00,84.99 L400.00,85.35 L401.00,84.20 L402.00,82.74 L403.00,82.35 L404.00,83.12 L405.00,84.23 L406.00,84.97 L407.00,84.69 L408.00,83.48 L409.00,81.88 L410.00,80.38 L411.00,79.50 L412.00,79.44 L413.00,79.91 L414.00,80.73 L415.00,81.75 L416.00,83.60 L417.00,85.95 L418.00,88.15 L419.00,89.54 L420.00,89.17 L421.00,86.78 L422.00,84.17 L423.00,83.20 L424.00,84.18 L425.00,85.71 L426.00,87.17 L427.00,88.73 L428.00,90.39 L429.00,91.82 L430.00,92.68 L431.00,92.42 L432.00,90.37 L433.00,87.56 L434.00,85.17 L435.00,83.48 L436.00,81.84 L437.00,80.56 L438.00,79.94 L439.00,79.98 L440.00,80.31 L441.00,80.57 L442.00,80.40 L443.00,79.78 L444.00,79.02 L445.00,78.22 L446.00,77.48 L447.00,76.71 L448.00,75.89 L449.00,75.13 L450.00,74.49 L451.00,74.05 L452.00,73.83 L453.00,73.67 L454.00,73.57 L455.00,73.50 L456.00,73.46 L457.00,73.42 L458.00,73.37 L459.00,73.29 L460.00,73.18 L461.00,73.01 L462.00,72.80 L463.00,72.57 L464.00,72.32 L465.00,72.07 L466.00,71.83 L467.00,71.61 L468.00,71.42 L469.00,71.27 L470.00,71.19 L471.00,71.28 L472.00,71.53 L473.00,71.86 L474.00,72.19 L475.00,72.46 L476.00,72.56 L477.00,72.45 L478.00,72.15 L479.00,71.72 L480.00,71.20 L481.00,70.62 L482.00,70.04 L483.00,69.50 L484.00,69.03 L485.00,68.69 L486.00,68.51 L487.00,69.72 L488.00,73.55 L489.00,75.80 L490.00,73.91 L491.00,70.66 L492.00,69.40 L493.00,69.41 L494.00,69.43 L495.00,69.45 L496.00,69.47 L497.00,69.49 L498.00,69.51 L499.00,69.54 L500.00,69.56 L501.00,69.59 L502.00,69.61 L503.00,69.63 L504.00,69.65 L505.00,69.67 L506.00,69.69 L507.00,69.71 L508.00,69.72 L509.00,69.74 L510.00,69.75 L511.00,69.77 L512.00,69.79 L513.00,69.80 L514.00,69.82 L515.00,69.83 L516.00,69.85 L517.00,69.86 L518.00,69.87 L519.00,69.88 L520.00,69.89 L521.00,69.90 L522.00,69.88 L523.00,69.75 L524.00,69.54 L525.00,69.25 L526.00,68.89 L527.00,68.48 L528.00,68.03 L529.00,67.55 L530.00,67.06 L531.00,66.58 L532.00,66.10" fill="none" stroke="#12c1c1" stroke-width="2.9" stroke-linejoin="round" stroke-linecap="round"/>
<line x1="303.2" y1="47.5" x2="303.2" y2="320.6" stroke="#111" stroke-width="2.3" stroke-dasharray="9.2 8.59"/>
<rect x="52.2" y="4.8" width="479.7" height="353.4" fill="none" stroke="#000" stroke-width="2.7"/>
<line x1="52.30" y1="358.2" x2="52.30" y2="364.8" stroke="#000" stroke-width="2.7"/>
<text x="52.30" y="383.8" text-anchor="middle" font-size="18">4000</text>
<line x1="120.82" y1="358.2" x2="120.82" y2="364.8" stroke="#000" stroke-width="2.7"/>
<text x="120.82" y="383.8" text-anchor="middle" font-size="18">3500</text>
<line x1="189.34" y1="358.2" x2="189.34" y2="364.8" stroke="#000" stroke-width="2.7"/>
<text x="189.34" y="383.8" text-anchor="middle" font-size="18">3000</text>
<line x1="257.86" y1="358.2" x2="257.86" y2="364.8" stroke="#000" stroke-width="2.7"/>
<text x="257.86" y="383.8" text-anchor="middle" font-size="18">2500</text>
<line x1="326.38" y1="358.2" x2="326.38" y2="364.8" stroke="#000" stroke-width="2.7"/>
<text x="326.38" y="383.8" text-anchor="middle" font-size="18">2000</text>
<line x1="394.90" y1="358.2" x2="394.90" y2="364.8" stroke="#000" stroke-width="2.7"/>
<text x="394.90" y="383.8" text-anchor="middle" font-size="18">1500</text>
<line x1="463.42" y1="358.2" x2="463.42" y2="364.8" stroke="#000" stroke-width="2.7"/>
<text x="463.42" y="383.8" text-anchor="middle" font-size="18">1000</text>
<line x1="531.94" y1="358.2" x2="531.94" y2="364.8" stroke="#000" stroke-width="2.7"/>
<text x="531.94" y="383.8" text-anchor="middle" font-size="18">500</text>
<line x1="86.56" y1="358.2" x2="86.56" y2="361.8" stroke="#000" stroke-width="2.7"/>
<line x1="155.08" y1="358.2" x2="155.08" y2="361.8" stroke="#000" stroke-width="2.7"/>
<line x1="223.60" y1="358.2" x2="223.60" y2="361.8" stroke="#000" stroke-width="2.7"/>
<line x1="292.12" y1="358.2" x2="292.12" y2="361.8" stroke="#000" stroke-width="2.7"/>
<line x1="360.64" y1="358.2" x2="360.64" y2="361.8" stroke="#000" stroke-width="2.7"/>
<line x1="429.16" y1="358.2" x2="429.16" y2="361.8" stroke="#000" stroke-width="2.7"/>
<line x1="497.68" y1="358.2" x2="497.68" y2="361.8" stroke="#000" stroke-width="2.7"/>
<text x="168.2" y="59.5" font-size="18.5" fill="#12c1c1">20%</text>
<text x="209.4" y="59.5" font-size="18.5" fill="#12c1c1">BP/KPHI</text>
<text x="168.2" y="95.0" font-size="18.5" fill="#cc9400">15%</text>
<text x="209.4" y="95.0" font-size="18.5" fill="#cc9400">BP/KPHI</text>
<text x="168.2" y="129.6" font-size="18.5" fill="#a95fdc">10%</text>
<text x="208.8" y="129.6" font-size="18.5" fill="#a95fdc">BP/KPHI</text>
<text x="170.8" y="174.0" font-size="18.5" fill="#22a660">5%</text>
<text x="199.0" y="174.0" font-size="18.5" fill="#22a660">BP/KPHI</text>
<text x="169.4" y="215.6" font-size="18.5" fill="#1763db">1</text>
<text x="179.2" y="215.6" font-size="18.5" fill="#1763db">%</text>
<text x="199.3" y="215.6" font-size="18.5" fill="#1763db">BP/KPHI</text>
<text x="172.3" y="260.5" font-size="18.5" fill="#ef3030">KPHI</text>
<text x="174.8" y="295.5" font-size="18.5" fill="#111">BP</text>
<text x="306.5" y="317.3" font-size="15.5" fill="#111">2170</text>
<g font-weight="bold" fill="#000">
<text x="197.5" y="424" font-size="24" fill="#000">Wavelength</text>
<text x="339.0" y="424" font-size="24" fill="#000">(cm</text>
<rect x="382.7" y="409.9" width="8.0" height="2.1" fill="#000"/>
<text x="392.0" y="416.6" font-size="14" fill="#000">1</text>
<text x="401.4" y="424" font-size="24" fill="#000">)</text>
</g>
<text transform="translate(26.8,180.5) rotate(-90)" text-anchor="middle" font-size="30">T % / a.u.</text>
</svg>
</body></html>
